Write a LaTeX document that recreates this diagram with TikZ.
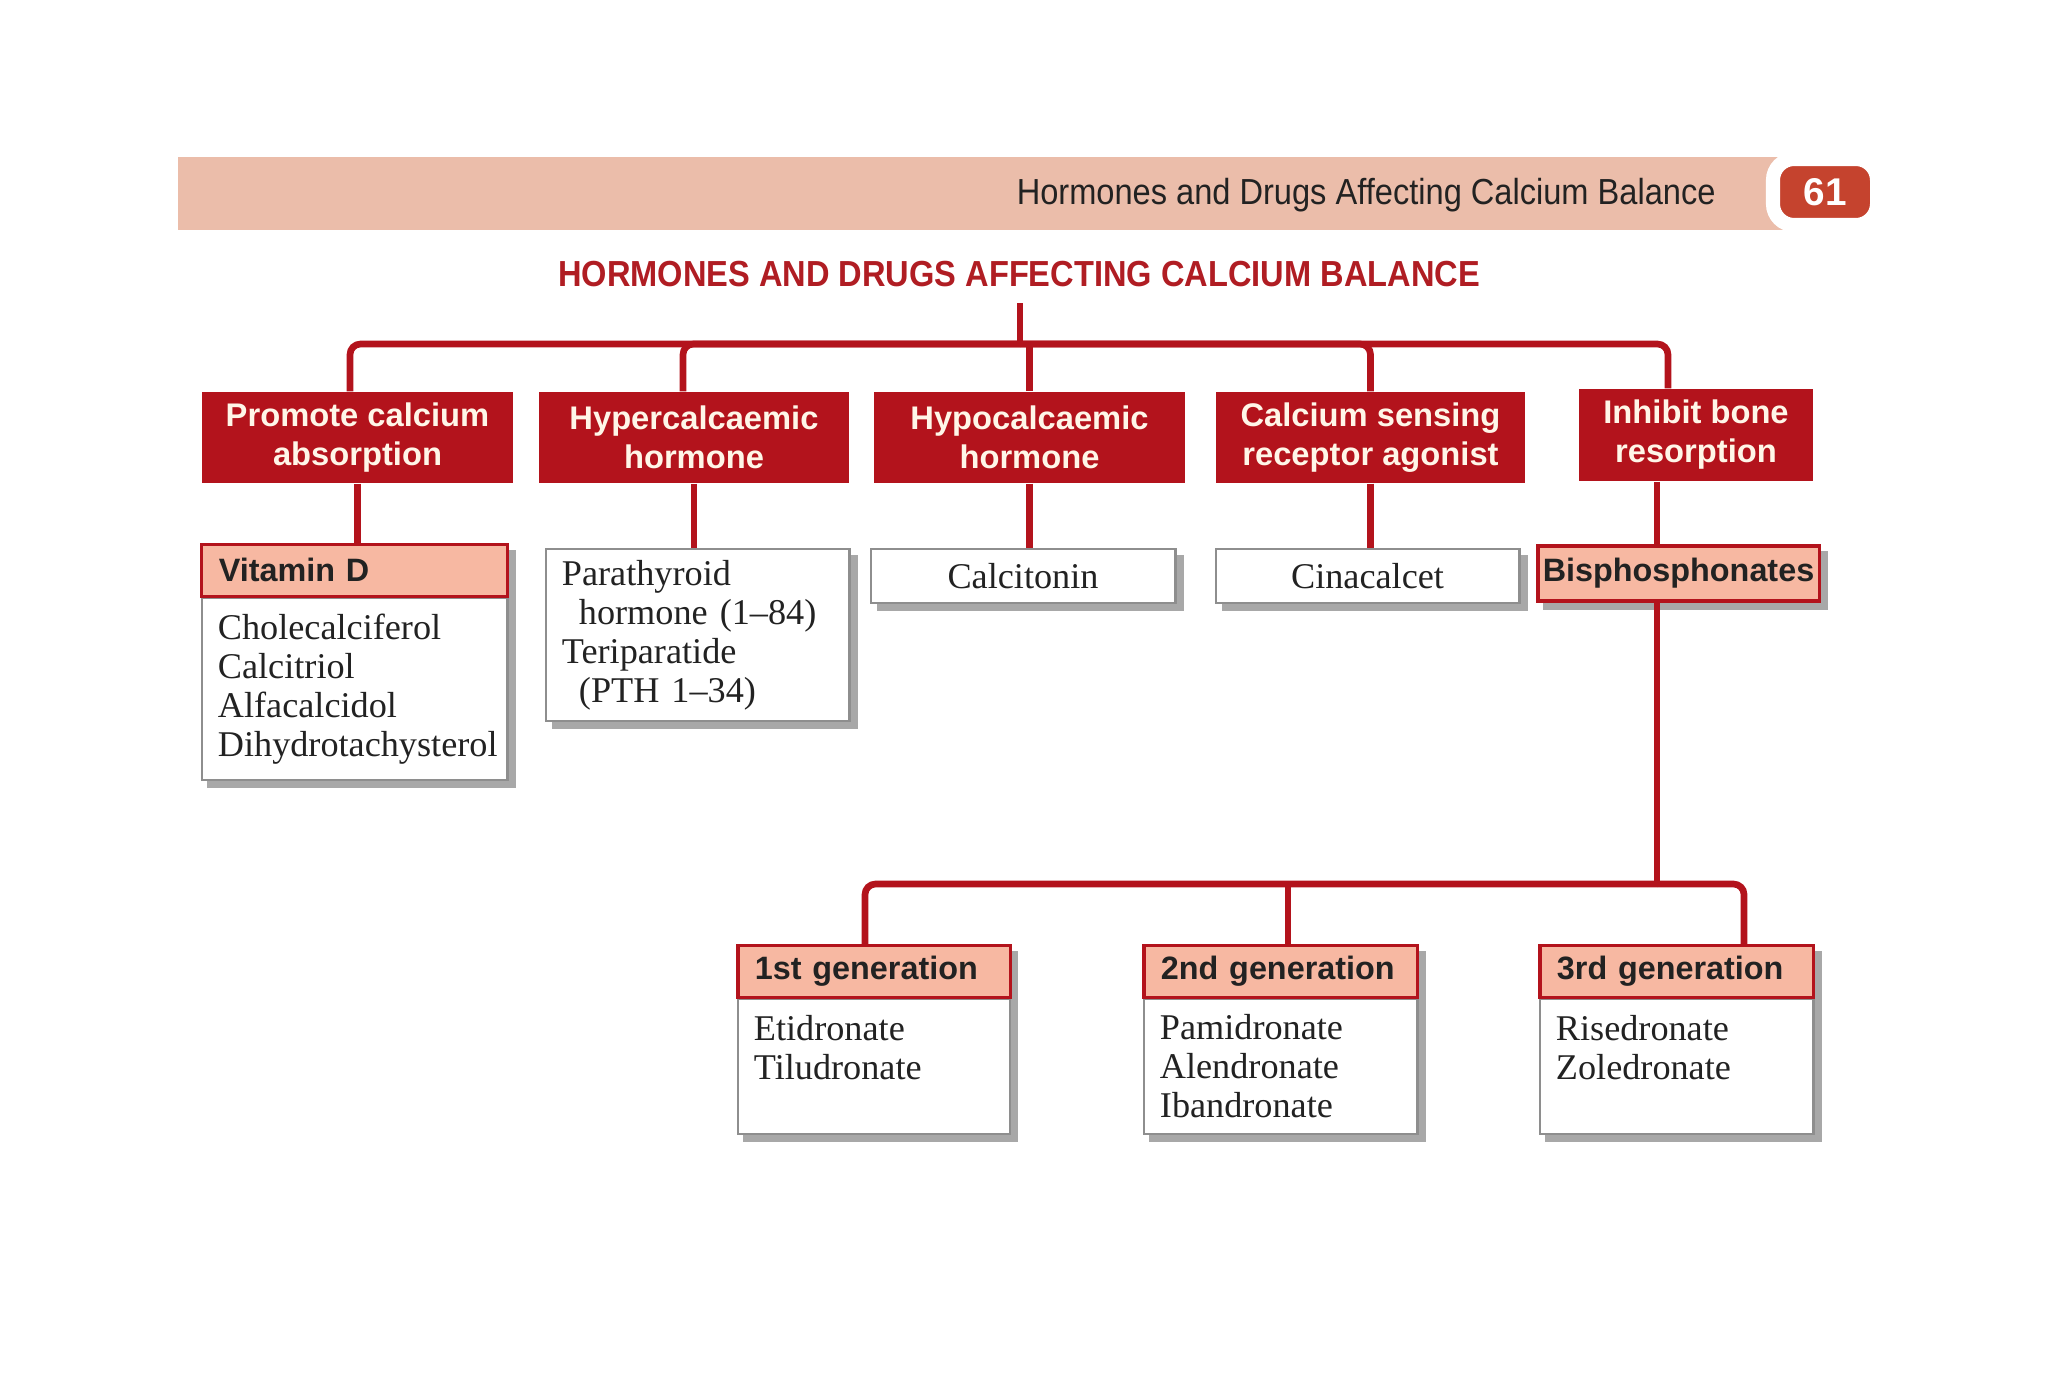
\documentclass[tikz,border=0pt]{standalone}
\usepackage{fontspec}
\setmainfont{Liberation Serif}
\setsansfont{Liberation Sans}
\newfontfamily\narrowsans[FakeStretch=0.9]{Liberation Sans}
\usetikzlibrary{positioning,backgrounds}

\definecolor{catred}{HTML}{B3131C}
\definecolor{titlered}{HTML}{B01D23}
\definecolor{salmon}{HTML}{F7B8A2}
\definecolor{bandpink}{HTML}{EBBDAA}
\definecolor{pagered}{HTML}{C5432E}
\definecolor{boxgray}{HTML}{8E8E8E}
\definecolor{shadowgray}{HTML}{A8A8A8}
\definecolor{inkdark}{HTML}{222222}
\definecolor{capwhite}{HTML}{FFF6E8}

\tikzset{
  link/.style={draw=catred, line width=1.9pt, rounded corners=3pt},
  catbox/.style={fill=catred, text=capwhite, font=\sffamily\bfseries\fontsize{9.3}{11.1}\selectfont,
    align=center, inner sep=0pt, minimum height=0.91cm},
  subhead/.style={fill=salmon, draw=catred, line width=0.9pt, text=inkdark,
    font=\sffamily\bfseries\fontsize{9.2}{11}\selectfont, inner ysep=0pt, inner xsep=0.17cm, minimum height=0.52cm},
  listbox/.style={fill=white, draw=boxgray, line width=0.8pt, text=inkdark,
    font=\fontsize{10.3}{11.1}\selectfont, align=left, inner ysep=0pt, inner xsep=0.16cm},
  pagetab/.style={fill=pagered, draw=white, line width=4pt, rounded corners=6pt, text=white,
    font=\sffamily\bfseries\fontsize{11}{13}\selectfont, minimum width=1.04cm, minimum height=0.66cm},
}

\begin{document}
\begin{tikzpicture}[x=0.01cm, y=-0.01cm]
    \useasboundingbox (0,0) rectangle (2048,1381);

    % Running head
    \fill[bandpink] (178,157) rectangle (1790,230);
    \node[pagetab] (pagenum) at (1825,192) {61};
    \node[anchor=east, text=inkdark, font=\narrowsans\fontsize{10.3}{12}\selectfont] (runhead) at (1728,195) {Hormones and Drugs Affecting Calcium Balance};

    % Title
    \node[text=titlered, font=\narrowsans\bfseries\fontsize{10.3}{12}\selectfont] (title) at (1019,274) {HORMONES AND DRUGS AFFECTING CALCIUM BALANCE};

    % Categories
    \node[catbox, minimum width=3.11cm] (promote) at (357.5,437.5) {Promote calcium\\absorption};
    \node[catbox, minimum width=3.10cm] (hyper) at (694,437.5) {Hypercalcaemic\\hormone};
    \node[catbox, minimum width=3.11cm] (hypo) at (1029.5,437.5) {Hypocalcaemic\\hormone};
    \node[catbox, minimum width=3.09cm] (casr) at (1370.5,437.5) {Calcium sensing\\receptor agonist};
    \node[catbox, minimum width=2.34cm, minimum height=0.92cm] (inhibit) at (1696,435) {Inhibit bone\\resorption};

    % Drugs
    \node[listbox, text width=2.73cm, minimum height=1.82cm] (vitD) at (354.5,689)
        {Cholecalciferol\\Calcitriol\\Alfacalcidol\\\mbox{Dihydrotachysterol}};
    \node[subhead, text width=2.71cm, align=left, anchor=south] (vitDhead) at (354.5,598) {Vitamin D};
    \node[listbox, text width=2.71cm, minimum height=1.72cm] (para) at (697.5,635)
        {Parathyroid\\\hspace*{0.17cm}hormone (1--84)\\Teriparatide\\\hspace*{0.17cm}(PTH 1--34)};
    \node[listbox, minimum width=3.04cm, minimum height=0.54cm] (calcitonin) at (1023,576) {Calcitonin};
    \node[listbox, minimum width=3.03cm, minimum height=0.54cm] (cinacalcet) at (1367.5,576) {Cinacalcet};
    \node[subhead, inner xsep=0.04cm, minimum width=2.81cm, minimum height=0.55cm] (bisph) at (1678.5,573.5) {Bisphosphonates};

    % Generations
    \node[listbox, text width=2.40cm, minimum height=1.35cm] (gen1) at (874,1066.5) {Etidronate\\Tiludronate\\\mbox{}};
    \node[listbox, text width=2.41cm, minimum height=1.35cm] (gen2) at (1280.5,1066.5) {Pamidronate\\Alendronate\\Ibandronate};
    \node[listbox, text width=2.41cm, minimum height=1.35cm] (gen3) at (1676.5,1066.5) {Risedronate\\Zoledronate\\\mbox{}};
    \node[subhead, text width=2.38cm, align=left, anchor=south] (gen1head) at (874,999) {1st generation};
    \node[subhead, text width=2.39cm, align=left, anchor=south] (gen2head) at (1280.5,999) {2nd generation};
    \node[subhead, text width=2.39cm, align=left, anchor=south] (gen3head) at (1676.5,999) {3rd generation};

    % Shadows
    \begin{scope}[on background layer]
        \foreach \top/\bot in {vitDhead/vitD, para/para, calcitonin/calcitonin, cinacalcet/cinacalcet,
                               bisph/bisph, gen1head/gen1, gen2head/gen2, gen3head/gen3}
            \fill[shadowgray] ([shift={(7,7)}]\top.north west) rectangle ([shift={(7,7)}]\bot.south east);
    \end{scope}

    % Tree
    \coordinate (trunk) at (1020,303);
    \coordinate (hub) at (1020,344);
    \draw[link] (trunk) -- (hub);
    \draw[link] (hub) -| ([xshift=-0.075cm]promote.north);
    \draw[link] (hub) -| ([xshift=-0.11cm]hyper.north);
    \draw[link] (hypo.north |- hub) -- (hypo.north);
    \draw[link] (hub) -| (casr.north);
    \draw[link] (hub) -| ([xshift=-0.28cm]inhibit.north);

    \draw[link] (promote.south) -- (promote.south |- vitDhead.north);
    \draw[link] (hyper.south) -- (hyper.south |- para.north);
    \draw[link] (hypo.south) -- (hypo.south |- calcitonin.north);
    \draw[link] (casr.south) -- (casr.south |- cinacalcet.north);

    \coordinate (bhub) at (1657,884);
    \coordinate (g2top) at ([xshift=0.075cm]gen2head.north);
    \draw[link] (inhibit.south -| bhub) -- (bisph.north -| bhub);
    \draw[link] (bisph.south -| bhub) -- (bhub);
    \draw[link] (bhub) -| ([xshift=-0.09cm]gen1head.north);
    \draw[link] (g2top |- bhub) -- (g2top);
    \draw[link] (bhub) -| ([xshift=0.675cm]gen3head.north);

\end{tikzpicture}
\end{document}
